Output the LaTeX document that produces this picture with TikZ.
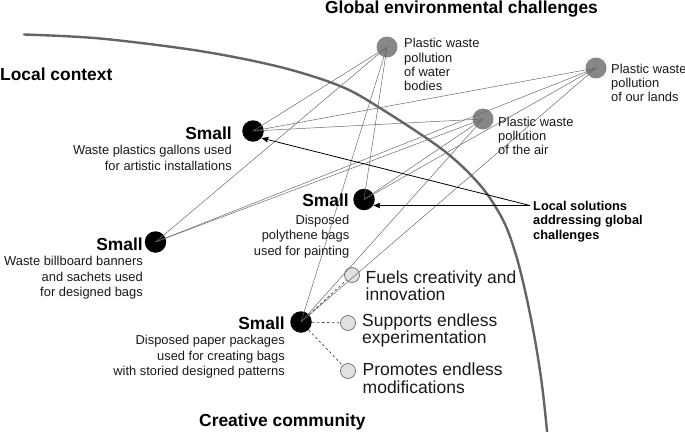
\documentclass[tikz,border=0pt]{standalone}
\usepackage{fontspec}
\setmainfont{Liberation Sans}
\usetikzlibrary{arrows.meta}
\definecolor{globgray}{RGB}{135,135,135}
\definecolor{effgray}{RGB}{225,225,225}
\definecolor{effdraw}{RGB}{120,120,120}
\definecolor{linkgray}{RGB}{105,105,105}
\definecolor{dashgray}{RGB}{70,70,70}
\definecolor{arcgray}{RGB}{100,100,100}
\definecolor{textcol}{RGB}{25,25,25}
\begin{document}
\begin{tikzpicture}[x=1pt,y=-1pt,
  glob/.style={circle,fill=globgray,minimum size=21pt,inner sep=0pt},
  smallnode/.style={circle,fill=black,minimum size=21.5pt,inner sep=0pt},
  eff/.style={circle,fill=effgray,draw=effdraw,line width=0.8pt,minimum size=15pt,inner sep=0pt},
  link/.style={draw=linkgray,line width=0.5pt},
  dlink/.style={draw=dashgray,line width=0.7pt,dash pattern=on 2.5pt off 2.5pt},
  arr/.style={draw=black,line width=0.8pt,-{Stealth[length=7pt,width=5.5pt,inset=1pt]}},
  bigtitle/.style={inner sep=0pt,font=\bfseries\fontsize{17.4}{20}\selectfont,text=black},
  desc/.style={inner sep=0pt,align=right,font=\fontsize{12.9}{15.5}\selectfont,text=textcol},
  gtext/.style={inner sep=0pt,align=left,font=\fontsize{12.9}{14.4}\selectfont,text=textcol},
  soltext/.style={inner sep=0pt,align=left,font=\bfseries\fontsize{12.8}{14.5}\selectfont,text=black},
  efftext/.style={inner sep=0pt,align=left,font=\fontsize{17.5}{17.3}\selectfont,text=textcol}
]
\useasboundingbox (0,0) rectangle (685,431);

% big boundary arc
\begin{scope}
\clip (0,0) rectangle (685,431);
\draw[arcgray,line width=2.4pt,line cap=round] plot[smooth,tension=0.55] coordinates {
  (24,34.5) (100,38.5) (200,51) (280,67) (340,86) (380,108) (443,150)
  (480,185) (503,220) (516,255) (526,295) (535,340) (542,385) (547,431) (548,445)};
\end{scope}

% circles
\node[glob] (W) at (387,47) {};
\node[glob] (L) at (596,68) {};
\node[glob] (A) at (483,119) {};
\node[smallnode] (S1) at (253,131) {};
\node[smallnode] (S2) at (364,199.5) {};
\node[smallnode] (S3) at (155.5,242) {};
\node[smallnode] (S4) at (301,322) {};
\node[eff] (F) at (352,275) {};
\node[eff] (Su) at (348,323) {};
\node[eff] (P) at (348,371) {};

% links between global challenges and local solutions
\foreach \g in {W,L,A}{
  \foreach \s in {S1,S2,S3,S4}{
    \draw[link] (\g.center) -- (\s.center);
  }
}

% dashed links to effects
\draw[dlink] (S4) -- (F);
\draw[dlink] (S4) -- (Su);
\draw[dlink] (S4) -- (P);

% arrows from the label
\coordinate (sol) at (530,205.5);
\draw[arr] (sol) -- (S1.-40);
\draw[arr] (sol) -- (S2.-33);

% titles
\node[bigtitle,anchor=base west] (tglob) at (325,13) {Global environmental challenges};
\node[bigtitle,anchor=base west] (tloc) at (0,80) {Local context};
\node[bigtitle,anchor=base west] (tcre) at (199,426.7) {Creative community};

% small labels (base anchor = last line baseline)
\node[bigtitle,anchor=base east] (t1) at (232,139.3) {Small};
\node[desc,anchor=base east] (d1) at (232,170.3) {Waste plastics gallons used\\for artistic installations};
\node[bigtitle,anchor=base east] (t2) at (349,206.7) {Small};
\node[desc,anchor=base east] (d2) at (349.5,255.3) {Disposed\\polythene bags\\used for painting};
\node[bigtitle,anchor=base east] (t3) at (143,250) {Small};
\node[desc,anchor=base east] (d3) at (143,296.7) {Waste billboard banners\\and sachets used\\for designed bags};
\node[bigtitle,anchor=base east] (t4) at (285,329.3) {Small};
\node[desc,anchor=base east] (d4) at (285,375.5) {Disposed paper packages\\used for creating bags\\with storied designed patterns};

% global labels
\node[gtext,anchor=base west] (gw) at (404,90.9) {Plastic waste\\pollution\\of water\\bodies};
\node[gtext,anchor=base west] (gl) at (611,101.8) {Plastic waste\\pollution\\of our lands};
\node[gtext,anchor=base west] (ga) at (498,154.8) {Plastic waste\\pollution\\of the air};

% solutions label
\node[soltext,anchor=base west] (soltxt) at (533,239) {Local solutions\\addressing global\\challenges};

% effects labels
\node[efftext,anchor=base west] (ef) at (365.5,300.6) {Fuels creativity and\\innovation};
\node[efftext,anchor=base west] (es) at (362,343.8) {Supports endless\\experimentation};
\node[efftext,anchor=base west] (ep) at (362.5,393) {Promotes endless\\modifications};
\end{tikzpicture}
\end{document}
